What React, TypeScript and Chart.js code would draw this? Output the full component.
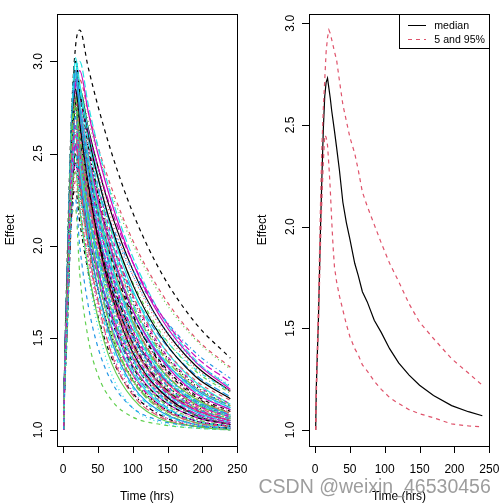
import React, { useEffect, useRef } from "react";
import { Chart, registerables } from "chart.js";
Chart.register(...registerables);

// ---------- data ----------
// simulated effect curves (left panel), sampled at TIME_SIM (hrs)
const TIME_SIM = [1, 2, 6, 12, 18, 24, 36, 50, 70, 100, 140, 190, 240];

const CURVES_SLOW = [
  [1.00, 1.24, 1.78, 2.44, 2.78, 2.85, 2.64, 2.43, 2.17, 1.87, 1.58, 1.35, 1.21],
  [1.00, 1.25, 1.80, 2.48, 2.82, 2.90, 2.73, 2.54, 2.31, 2.03, 1.75, 1.50, 1.34],
  [1.00, 1.24, 1.78, 2.44, 2.78, 2.85, 2.68, 2.50, 2.28, 2.01, 1.73, 1.49, 1.33],
  [1.00, 1.21, 1.67, 2.25, 2.54, 2.60, 2.45, 2.30, 2.11, 1.87, 1.63, 1.42, 1.28],
  [1.00, 1.26, 1.84, 2.56, 2.92, 3.00, 2.77, 2.54, 2.26, 1.94, 1.63, 1.38, 1.23],
  [1.00, 1.25, 1.82, 2.52, 2.87, 2.95, 2.73, 2.50, 2.23, 1.91, 1.61, 1.37, 1.22],
  [1.00, 1.28, 1.91, 2.69, 3.08, 3.17, 2.97, 2.76, 2.50, 2.18, 1.86, 1.58, 1.39],
  [1.00, 1.23, 1.76, 2.40, 2.73, 2.80, 2.60, 2.39, 2.14, 1.84, 1.56, 1.34, 1.21],
  [1.00, 1.22, 1.71, 2.33, 2.63, 2.70, 2.51, 2.31, 2.07, 1.80, 1.53, 1.32, 1.20],
  [1.00, 1.21, 1.67, 2.25, 2.54, 2.60, 2.42, 2.23, 2.01, 1.75, 1.50, 1.30, 1.18],
];

const CURVES_MID = [
  [1.00, 1.26, 1.85, 2.66, 3.02, 2.88, 2.63, 2.38, 2.08, 1.76, 1.47, 1.26, 1.14],
  [1.00, 1.25, 1.82, 2.60, 2.95, 2.82, 2.57, 2.33, 2.05, 1.73, 1.45, 1.25, 1.14],
  [1.00, 1.25, 1.80, 2.56, 2.90, 2.77, 2.53, 2.29, 2.02, 1.71, 1.44, 1.24, 1.13],
  [1.00, 1.24, 1.78, 2.52, 2.85, 2.72, 2.49, 2.26, 1.99, 1.69, 1.43, 1.23, 1.13],
  [1.00, 1.23, 1.76, 2.48, 2.80, 2.68, 2.45, 2.23, 1.96, 1.67, 1.42, 1.23, 1.13],
  [1.00, 1.23, 1.74, 2.44, 2.75, 2.63, 2.41, 2.19, 1.94, 1.65, 1.40, 1.22, 1.12],
  [1.00, 1.21, 1.69, 2.35, 2.65, 2.54, 2.33, 2.12, 1.88, 1.62, 1.38, 1.21, 1.12],
  [1.00, 1.20, 1.65, 2.27, 2.55, 2.44, 2.25, 2.06, 1.83, 1.58, 1.36, 1.20, 1.11],
  [1.00, 1.26, 1.84, 2.64, 3.00, 2.84, 2.55, 2.28, 1.97, 1.63, 1.36, 1.18, 1.09],
  [1.00, 1.25, 1.80, 2.56, 2.90, 2.75, 2.48, 2.21, 1.92, 1.60, 1.34, 1.17, 1.09],
  [1.00, 1.24, 1.78, 2.52, 2.85, 2.70, 2.44, 2.18, 1.89, 1.59, 1.33, 1.17, 1.08],
  [1.00, 1.23, 1.76, 2.48, 2.80, 2.66, 2.40, 2.15, 1.87, 1.57, 1.33, 1.16, 1.08],
  [1.00, 1.23, 1.74, 2.44, 2.75, 2.61, 2.36, 2.12, 1.85, 1.55, 1.32, 1.16, 1.08],
  [1.00, 1.22, 1.71, 2.39, 2.70, 2.56, 2.32, 2.09, 1.82, 1.54, 1.31, 1.15, 1.08],
  [1.00, 1.21, 1.69, 2.35, 2.65, 2.52, 2.28, 2.05, 1.80, 1.52, 1.30, 1.15, 1.07],
  [1.00, 1.21, 1.67, 2.31, 2.60, 2.47, 2.24, 2.02, 1.77, 1.51, 1.29, 1.14, 1.07],
  [1.00, 1.20, 1.63, 2.23, 2.50, 2.38, 2.17, 1.96, 1.72, 1.48, 1.27, 1.14, 1.07],
];

const CURVES_EXTRA = [
  [1.00, 1.23, 1.74, 2.44, 2.75, 2.66, 2.49, 2.31, 2.10, 1.84, 1.58, 1.37, 1.24],
  [1.00, 1.20, 1.65, 2.27, 2.55, 2.47, 2.32, 2.16, 1.97, 1.74, 1.52, 1.33, 1.21],
  [1.00, 1.25, 1.80, 2.56, 2.90, 2.80, 2.62, 2.43, 2.19, 1.91, 1.63, 1.40, 1.26],
  [1.00, 1.25, 1.82, 2.60, 2.95, 2.83, 2.60, 2.37, 2.10, 1.79, 1.51, 1.29, 1.17],
  [1.00, 1.23, 1.76, 2.48, 2.80, 2.68, 2.48, 2.27, 2.02, 1.73, 1.47, 1.27, 1.16],
  [1.00, 1.21, 1.69, 2.35, 2.65, 2.54, 2.35, 2.16, 1.93, 1.67, 1.43, 1.25, 1.14],
  [1.00, 1.20, 1.63, 2.23, 2.50, 2.40, 2.23, 2.05, 1.85, 1.61, 1.39, 1.23, 1.13],
  [1.00, 1.26, 1.84, 2.64, 3.00, 2.85, 2.58, 2.32, 2.02, 1.69, 1.41, 1.21, 1.11],
  [1.00, 1.25, 1.80, 2.56, 2.90, 2.76, 2.50, 2.25, 1.97, 1.65, 1.39, 1.20, 1.11],
  [1.00, 1.23, 1.76, 2.48, 2.80, 2.67, 2.42, 2.19, 1.92, 1.62, 1.37, 1.19, 1.10],
  [1.00, 1.22, 1.71, 2.39, 2.70, 2.57, 2.34, 2.12, 1.87, 1.58, 1.35, 1.18, 1.10],
  [1.00, 1.21, 1.67, 2.31, 2.60, 2.48, 2.27, 2.05, 1.81, 1.55, 1.33, 1.17, 1.09],
  [1.00, 1.19, 1.61, 2.19, 2.45, 2.34, 2.15, 1.96, 1.74, 1.50, 1.30, 1.16, 1.08],
  [1.00, 1.25, 1.82, 2.60, 2.95, 2.78, 2.49, 2.21, 1.89, 1.57, 1.31, 1.15, 1.07],
  [1.00, 1.24, 1.78, 2.52, 2.85, 2.69, 2.41, 2.15, 1.85, 1.54, 1.30, 1.14, 1.07],
  [1.00, 1.23, 1.74, 2.44, 2.75, 2.60, 2.34, 2.08, 1.80, 1.51, 1.28, 1.13, 1.06],
  [1.00, 1.21, 1.69, 2.35, 2.65, 2.51, 2.26, 2.02, 1.76, 1.48, 1.26, 1.13, 1.06],
  [1.00, 1.20, 1.65, 2.27, 2.55, 2.42, 2.18, 1.96, 1.71, 1.45, 1.25, 1.12, 1.06],
  [1.00, 1.25, 1.80, 2.56, 2.90, 2.72, 2.40, 2.10, 1.78, 1.47, 1.24, 1.10, 1.04],
  [1.00, 1.23, 1.74, 2.44, 2.75, 2.58, 2.29, 2.02, 1.72, 1.43, 1.22, 1.09, 1.04],
  [1.00, 1.21, 1.67, 2.31, 2.60, 2.44, 2.18, 1.93, 1.66, 1.40, 1.20, 1.09, 1.04],
  [1.00, 1.20, 1.63, 2.23, 2.50, 2.35, 2.10, 1.87, 1.62, 1.37, 1.19, 1.08, 1.03],
  [1.00, 1.21, 1.69, 2.35, 2.65, 2.46, 2.13, 1.84, 1.55, 1.30, 1.13, 1.04, 1.02],
  [1.00, 1.20, 1.63, 2.23, 2.50, 2.32, 2.03, 1.77, 1.50, 1.27, 1.12, 1.04, 1.02],
];

const CURVES_QUICK = [
  [1.00, 1.25, 1.82, 2.60, 2.95, 2.77, 2.46, 2.17, 1.85, 1.52, 1.28, 1.12, 1.06],
  [1.00, 1.24, 1.78, 2.52, 2.85, 2.68, 2.39, 2.11, 1.80, 1.50, 1.26, 1.12, 1.05],
  [1.00, 1.23, 1.76, 2.48, 2.80, 2.63, 2.35, 2.08, 1.78, 1.48, 1.26, 1.12, 1.05],
  [1.00, 1.23, 1.74, 2.44, 2.75, 2.59, 2.31, 2.05, 1.76, 1.47, 1.25, 1.11, 1.05],
  [1.00, 1.22, 1.71, 2.39, 2.70, 2.54, 2.28, 2.02, 1.74, 1.46, 1.24, 1.11, 1.05],
  [1.00, 1.16, 1.50, 2.15, 2.20, 1.85, 1.50, 1.30, 1.16, 1.07, 1.03, 1.01, 1.00],
  [1.00, 1.21, 1.67, 2.31, 2.60, 2.45, 2.20, 1.96, 1.70, 1.43, 1.23, 1.10, 1.05],
  [1.00, 1.20, 1.65, 2.27, 2.55, 2.41, 2.16, 1.93, 1.67, 1.42, 1.22, 1.10, 1.04],
  [1.00, 1.19, 1.61, 2.19, 2.45, 2.32, 2.09, 1.87, 1.63, 1.39, 1.21, 1.09, 1.04],
  [1.00, 1.24, 1.78, 2.52, 2.85, 2.66, 2.34, 2.04, 1.73, 1.42, 1.21, 1.08, 1.03],
  [1.00, 1.23, 1.76, 2.48, 2.80, 2.62, 2.30, 2.01, 1.71, 1.41, 1.20, 1.08, 1.03],
  [1.00, 1.23, 1.74, 2.44, 2.75, 2.57, 2.27, 1.98, 1.69, 1.40, 1.19, 1.08, 1.03],
  [1.00, 1.22, 1.71, 2.39, 2.70, 2.53, 2.23, 1.96, 1.67, 1.39, 1.19, 1.08, 1.03],
  [1.00, 1.21, 1.69, 2.35, 2.65, 2.48, 2.19, 1.93, 1.65, 1.38, 1.18, 1.07, 1.03],
  [1.00, 1.20, 1.65, 2.27, 2.55, 2.39, 2.12, 1.87, 1.61, 1.35, 1.17, 1.07, 1.03],
  [1.00, 1.20, 1.63, 2.23, 2.50, 2.35, 2.08, 1.84, 1.59, 1.34, 1.17, 1.07, 1.03],
  [1.00, 1.18, 1.59, 2.15, 2.40, 2.26, 2.01, 1.79, 1.55, 1.32, 1.16, 1.06, 1.03],
];

const CURVES_FAST = [
  [1.00, 1.23, 1.76, 2.48, 2.80, 2.60, 2.26, 1.95, 1.64, 1.35, 1.16, 1.06, 1.02],
  [1.00, 1.22, 1.71, 2.39, 2.70, 2.51, 2.19, 1.90, 1.60, 1.33, 1.15, 1.05, 1.02],
  [1.00, 1.21, 1.67, 2.31, 2.60, 2.42, 2.12, 1.84, 1.56, 1.31, 1.14, 1.05, 1.02],
  [1.00, 1.20, 1.65, 2.27, 2.55, 2.37, 2.08, 1.82, 1.55, 1.30, 1.13, 1.05, 1.02],
  [1.00, 1.19, 1.61, 2.19, 2.45, 2.29, 2.01, 1.76, 1.51, 1.28, 1.13, 1.05, 1.02],
  [1.00, 1.18, 1.57, 2.11, 2.35, 2.20, 1.94, 1.71, 1.48, 1.26, 1.12, 1.04, 1.02],
  [1.00, 1.23, 1.74, 2.58, 2.75, 2.52, 2.16, 1.84, 1.53, 1.27, 1.11, 1.03, 1.01],
  [1.00, 1.21, 1.67, 2.44, 2.60, 2.39, 2.06, 1.77, 1.48, 1.24, 1.10, 1.03, 1.01],
  [1.00, 1.20, 1.63, 2.35, 2.50, 2.31, 1.99, 1.72, 1.45, 1.23, 1.09, 1.03, 1.01],
  [1.00, 1.18, 1.59, 2.26, 2.40, 2.22, 1.93, 1.67, 1.42, 1.21, 1.08, 1.03, 1.01],
  [1.00, 1.17, 1.55, 2.17, 2.30, 2.13, 1.86, 1.62, 1.39, 1.20, 1.08, 1.02, 1.01],
  [1.00, 1.21, 1.67, 2.44, 2.60, 2.37, 2.00, 1.70, 1.41, 1.19, 1.07, 1.02, 1.00],
  [1.00, 1.18, 1.59, 2.26, 2.40, 2.20, 1.88, 1.61, 1.36, 1.17, 1.06, 1.02, 1.00],
  [1.00, 1.16, 1.53, 2.13, 2.25, 2.00, 1.68, 1.45, 1.26, 1.12, 1.05, 1.02, 1.01],
  [1.00, 1.19, 1.61, 2.31, 2.45, 2.21, 1.85, 1.56, 1.30, 1.12, 1.04, 1.01, 1.00],
  [1.00, 1.21, 1.69, 2.35, 2.65, 2.50, 2.24, 1.99, 1.72, 1.44, 1.23, 1.11, 1.05],
];

// summary curves (right panel)
const TIME_Q = [1, 2, 5, 8, 10, 12, 14, 16, 18, 20, 22, 24, 26, 28, 31, 35, 40, 45, 50, 57, 62, 68, 75, 85, 95, 107, 120, 135, 150, 170, 196, 220, 240];
const MEDIAN = [1.00, 1.22, 1.55, 2.00, 2.25, 2.48, 2.64, 2.71, 2.73, 2.68, 2.63, 2.57, 2.52, 2.47, 2.39, 2.28, 2.12, 2.02, 1.94, 1.82, 1.76, 1.68, 1.63, 1.54, 1.48, 1.40, 1.33, 1.27, 1.22, 1.17, 1.12, 1.09, 1.07];
const Q95 = [1.00, 1.22, 1.62, 2.12, 2.40, 2.58, 2.72, 2.86, 2.93, 2.967, 2.95, 2.92, 2.89, 2.86, 2.82, 2.72, 2.60, 2.52, 2.44, 2.36, 2.28, 2.17, 2.10, 2.01, 1.92, 1.82, 1.73, 1.62, 1.53, 1.45, 1.35, 1.28, 1.22];
const Q05 = [1.00, 1.18, 1.52, 1.92, 2.14, 2.32, 2.45, 2.44, 2.40, 2.30, 2.18, 2.03, 1.90, 1.80, 1.73, 1.66, 1.59, 1.52, 1.46, 1.40, 1.37, 1.32, 1.29, 1.24, 1.20, 1.16, 1.13, 1.10, 1.08, 1.06, 1.03, 1.02, 1.016];

const X_TICKS = [0, 50, 100, 150, 200, 250];
const Y_TICKS_LEFT = [1.0, 1.5, 2.0, 2.5, 3.0];
const Y_TICKS_RIGHT = [1.0, 1.5, 2.0, 2.5, 3.0];
const X_TITLE = "Time (hrs)";
const Y_TITLE = "Effect";
const LEGEND_LABELS = ["median", "5 and 95%"];
const WATERMARK = "CSDN @weixin_46530456";

// R default palette & line types
const R_COLORS = ["#000000", "#DF536B", "#61D04F", "#2297E6", "#28E2E5", "#CD0BBC"];
const R_LTY: number[][] = [[], [4, 4], [1, 3], [1, 3, 4, 3], [7, 3]];

const FONT = '"Liberation Sans", Arial, Helvetica, sans-serif';

function rRange(vals: number[]) {
  const lo = Math.min(...vals);
  const hi = Math.max(...vals);
  const pad = (hi - lo) * 0.04;
  return { min: lo - pad, max: hi + pad };
}

function makeAxesPlugin(yTicks: number[], legend: boolean, watermark: boolean) {
  return {
    id: "rAxes",
    afterDraw(chart: any) {
      const ctx = chart.ctx as CanvasRenderingContext2D;
      const a = chart.chartArea;
      const xs = chart.scales.x;
      const ys = chart.scales.y;
      const L = Math.round(a.left), R = Math.round(a.right), T = Math.round(a.top), B = Math.round(a.bottom);
      ctx.save();
      ctx.strokeStyle = "#000";
      ctx.lineWidth = 1;
      ctx.setLineDash([]);
      ctx.strokeRect(L + 0.5, T + 0.5, R - L, B - T);
      ctx.beginPath();
      X_TICKS.forEach((v) => {
        const px = Math.round(xs.getPixelForValue(v)) + 0.5;
        ctx.moveTo(px, B);
        ctx.lineTo(px, B + 7);
      });
      yTicks.forEach((v) => {
        const py = Math.round(ys.getPixelForValue(v)) + 0.5;
        ctx.moveTo(L, py);
        ctx.lineTo(L - 7, py);
      });
      ctx.stroke();
      ctx.fillStyle = "#000";
      ctx.font = `12px ${FONT}`;
      ctx.textAlign = "center";
      ctx.textBaseline = "alphabetic";
      X_TICKS.forEach((v) => {
        ctx.fillText(String(v), xs.getPixelForValue(v), B + 26.5);
      });
      ctx.fillText(X_TITLE, (a.left + a.right) / 2, B + 54);
      yTicks.forEach((v) => {
        ctx.save();
        ctx.translate(L - 15, ys.getPixelForValue(v));
        ctx.rotate(-Math.PI / 2);
        ctx.fillText(v.toFixed(1), 0, 0);
        ctx.restore();
      });
      ctx.save();
      ctx.translate(L - 43, (a.top + a.bottom) / 2);
      ctx.rotate(-Math.PI / 2);
      ctx.fillText(Y_TITLE, 0, 0);
      ctx.restore();

      if (legend) {
        const ds = chart.data.datasets;
        const bx = L + 90.5;
        ctx.fillStyle = "#fff";
        ctx.fillRect(bx, T + 0.5, R + 0.5 - bx, 34);
        ctx.strokeStyle = "#000";
        ctx.strokeRect(bx, T + 0.5, R - bx + 0.5, 34);
        const rows = [ds[0], ds[1]];
        ctx.font = `10.6px ${FONT}`;
        ctx.textAlign = "left";
        rows.forEach((d: any, i: number) => {
          const y = T + 11.5 + i * 14;
          ctx.strokeStyle = d.borderColor;
          ctx.setLineDash(d.borderDash || []);
          ctx.beginPath();
          ctx.moveTo(L + 99, y);
          ctx.lineTo(L + 117, y);
          ctx.stroke();
          ctx.fillStyle = "#000";
          ctx.fillText(LEGEND_LABELS[i], L + 125.3, y + 3.5);
        });
        ctx.setLineDash([]);
      }
      if (watermark) {
        ctx.font = `19.5px ${FONT}`;
        ctx.textAlign = "left";
        ctx.fillStyle = "rgba(140,140,140,0.85)";
        ctx.fillText(WATERMARK, 6.5, 492.5);
      }
      ctx.restore();
    },
  };
}

function baseOptions(xr: { min: number; max: number }, yr: { min: number; max: number }) {
  return {
    responsive: false,
    maintainAspectRatio: false,
    animation: false as const,
    layout: { padding: { left: 57, right: 15, top: 14, bottom: 58 } },
    scales: {
      x: { type: "linear" as const, min: xr.min, max: xr.max, display: false },
      y: { type: "linear" as const, min: yr.min, max: yr.max, display: false },
    },
    plugins: { legend: { display: false }, tooltip: { enabled: false } },
    elements: { point: { radius: 0 } },
    events: [] as any[],
  };
}

export default function App() {
  const leftRef = useRef<HTMLCanvasElement>(null);
  const rightRef = useRef<HTMLCanvasElement>(null);

  useEffect(() => {
    const curves = [...CURVES_SLOW, ...CURVES_MID, ...CURVES_EXTRA, ...CURVES_QUICK, ...CURVES_FAST];
    const n = curves.length;
    const xr = rRange(TIME_SIM);
    const yrL = rRange(curves.flat());
    const leftSets = curves.map((row, i) => ({
      data: row.map((v, j) => ({ x: TIME_SIM[j], y: v })),
      borderColor: R_COLORS[i % 6],
      borderDash: R_LTY[i % 5],
      borderWidth: 1.2,
      pointRadius: 0,
      fill: false,
      cubicInterpolationMode: "monotone" as const,
      order: n - i,
    }));
    const left = new Chart(leftRef.current!, {
      type: "line",
      data: { datasets: leftSets },
      options: baseOptions(xr, yrL),
      plugins: [makeAxesPlugin(Y_TICKS_LEFT, false, false)],
    });

    const xrQ = rRange(TIME_Q);
    const yrR = rRange([...MEDIAN, ...Q95, ...Q05]);
    const mk = (arr: number[], color: string, dash: number[], label: string, order: number) => ({
      label,
      data: arr.map((v, j) => ({ x: TIME_Q[j], y: v })),
      borderColor: color,
      borderDash: dash,
      borderWidth: 1.2,
      pointRadius: 0,
      fill: false,
      tension: 0,
      order,
    });
    const right = new Chart(rightRef.current!, {
      type: "line",
      data: {
        datasets: [
          mk(MEDIAN, R_COLORS[0], [], LEGEND_LABELS[0], 3),
          mk(Q05, R_COLORS[1], [4, 4], LEGEND_LABELS[1], 2),
          mk(Q95, R_COLORS[1], [4, 4], LEGEND_LABELS[1], 1),
        ],
      },
      options: baseOptions(xrQ, yrR),
      plugins: [makeAxesPlugin(Y_TICKS_RIGHT, true, true)],
    });
    return () => {
      left.destroy();
      right.destroy();
    };
  }, []);

  return (
    <div style={{ position: "absolute", left: 0, top: 0, width: 504, height: 504, background: "#fff" }}>
      <canvas ref={leftRef} width={252} height={504} style={{ position: "absolute", left: 0, top: 0, width: 252, height: 504 }} />
      <canvas ref={rightRef} width={252} height={504} style={{ position: "absolute", left: 252, top: 0, width: 252, height: 504 }} />
    </div>
  );
}
